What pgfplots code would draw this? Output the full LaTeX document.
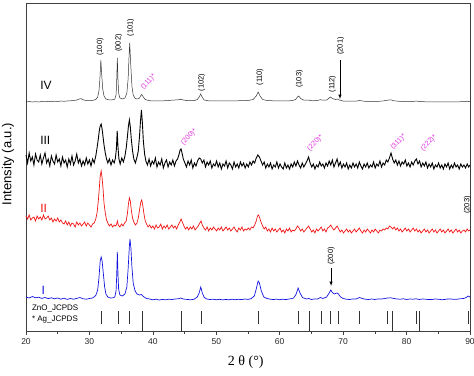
\documentclass[border=0pt]{standalone}
\usepackage{pgfplots}
\pgfplotsset{compat=1.18}
\usepackage{fontspec}
\setmainfont{Liberation Sans}
\newfontfamily\serifx{Liberation Serif}
\definecolor{mag}{RGB}{225,50,225}
\definecolor{cblue}{RGB}{20,20,225}
\definecolor{cred}{RGB}{240,20,20}
\begin{document}
\begin{tikzpicture}
\useasboundingbox (-26pt,-44pt) rectangle (448pt,331pt);
\begin{axis}[
  at={(0,0)}, anchor=south west,
  width=444pt, height=328pt, scale only axis,
  xmin=20, xmax=90, ymin=0, ymax=328,
  xtick={20,30,...,90}, minor x tick num=1,
  ytick=\empty,
  xtick pos=left, tick align=outside,
  major tick length=4pt, minor tick length=2.5pt,
  axis line style={black!75, line width=0.6pt},
  every tick/.style={black!75, line width=0.6pt},
  tick label style={font=\fontsize{8.5}{10}\selectfont, text=black!85},
  /pgf/number format/assume math mode=true,
  clip=false,
]
% ---- curve IV ----
\addplot[black!80, line width=0.5pt] coordinates {
(20,229) (20.5,229.5) (21,229) (21.5,229.3) (22,229) (22.5,229.5) (23,229.2) (23.5,229.6) (24,229.4) (24.5,229.8) (25,229.5) (25.5,230) (26,229.7) (26.5,230) (27,230.2) (27.5,230.5) (28,231) (28.4,232) (28.7,232.3) (29,231.2) (29.5,230.5) (30,230.3) (30.5,230.6) (31,231.5) (31.3,234) (31.5,240) (31.65,252) (31.8,271) (31.95,255) (32.1,242) (32.3,235) (32.6,232) (33,231.2) (33.5,231) (34,231.8) (34.2,236) (34.3,250) (34.4,273) (34.5,252) (34.6,238) (34.8,233) (35.2,232) (35.6,233) (35.9,238) (36.1,252) (36.25,275) (36.35,288) (36.5,268) (36.7,245) (36.9,236) (37.2,232.5) (37.6,232) (37.9,233) (38.1,235.5) (38.25,236.5) (38.5,234) (38.8,231.5) (39.3,230.5) (40,230) (41,230) (42,230.3) (43,230.8) (44,231.2) (44.4,231.8) (44.8,231) (45.5,230.3) (46.5,230.3) (47,231.5) (47.3,234) (47.55,237) (47.8,233.5) (48.1,231) (48.8,230.2) (50,230) (51,230) (52,230) (53,230.2) (54,230.3) (55,230.5) (55.8,231.5) (56.3,235) (56.6,239) (56.9,235) (57.3,231.5) (58,230.5) (59,230.2) (60,230) (61,230) (62,230.4) (62.5,231.5) (62.8,234) (63.0,235) (63.3,232.5) (63.8,230.8) (64.6,230.8) (65.2,230.2) (66.0,230.6) (66.4,231.3) (66.8,230.8) (67.4,231) (67.8,233) (68.0,234) (68.3,232.5) (68.8,231.5) (69.1,232) (69.4,231) (70,230) (71,229.8) (72,229.8) (72.6,230.5) (73.2,229.8) (74,229.6) (75,229.6) (76,229.8) (77,230.8) (77.5,231.2) (78,230.2) (79,229.6) (80,229.4) (81,229.5) (81.5,230) (82,229.5) (83,229.2) (84,229.2) (85,229) (86,229.2) (87,229) (88,229.2) (89,229.3) (89.6,229.8) (90,229.3)
};
% ---- curve III ----
\addplot[black, line width=0.9pt] coordinates {
(20,176) (20.25,168) (20.5,178) (20.75,170) (21,174) (21.25,166) (21.5,177) (21.75,171) (22,169) (22.25,176) (22.5,167) (22.75,173) (23,178) (23.25,168) (23.5,172) (23.75,165) (24,175) (24.25,170) (24.5,167) (24.75,176) (25,169) (25.25,172) (25.5,165) (25.75,174) (26,168) (26.25,171) (26.5,164) (26.75,172) (27,167) (27.25,175) (27.5,166) (27.75,170) (28,177) (28.25,168) (28.5,172) (28.75,165) (29,170) (29.25,166) (29.5,173) (29.75,167) (30,171) (30.25,165) (30.5,172) (30.75,168) (31.0,175) (31.2,183) (31.4,192) (31.55,200) (31.7,205) (31.85,207) (32.0,202) (32.15,194) (32.3,186) (32.5,178) (32.7,172) (32.9,168) (33.15,172) (33.4,166) (33.65,171) (33.9,168) (34.1,173) (34.25,182) (34.38,200) (34.5,184) (34.65,172) (34.85,167) (35.1,173) (35.35,169) (35.6,175) (35.8,183) (36.0,195) (36.15,205) (36.3,211) (36.45,204) (36.6,192) (36.8,180) (37.0,172) (37.25,168) (37.5,174) (37.7,180) (37.9,195) (38.05,210) (38.2,221) (38.35,208) (38.5,190) (38.7,177) (38.9,170) (39.15,166) (39.4,172) (39.65,165) (39.9,170) (40.15,167) (40.4,173) (40.65,164) (40.9,169) (41.15,166) (41.4,172) (41.65,163) (41.9,168) (42.15,171) (42.4,164) (42.65,169) (42.9,166) (43.15,171) (43.4,165) (43.65,170) (43.9,172) (44.1,176) (44.3,181) (44.45,182) (44.6,178) (44.8,172) (45.05,168) (45.3,164) (45.55,170) (45.8,166) (46.05,171) (46.3,163) (46.55,168) (46.8,165) (47.05,170) (47.3,173) (47.55,172) (47.8,168) (48.05,171) (48.3,164) (48.55,169) (48.8,166) (49.05,170) (49.3,163) (49.55,167) (49.8,165) (50.05,170) (50.3,164) (50.55,168) (50.8,162) (51.05,167) (51.3,165) (51.55,170) (51.8,163) (52.05,168) (52.3,166) (52.55,162) (52.8,169) (53.05,164) (53.3,167) (53.55,163) (53.8,169) (54.05,165) (54.3,168) (54.55,163) (54.8,167) (55.05,164) (55.3,169) (55.55,166) (55.8,170) (56.05,168) (56.3,173) (56.55,176) (56.8,174) (57.05,170) (57.3,166) (57.55,169) (57.8,163) (58.05,167) (58.3,164) (58.55,168) (58.8,162) (59.05,166) (59.3,164) (59.55,169) (59.8,163) (60.05,167) (60.3,164) (60.55,162) (60.8,168) (61.05,163) (61.3,166) (61.55,162) (61.8,167) (62.05,164) (62.3,169) (62.55,165) (62.8,170) (63.05,166) (63.3,163) (63.55,168) (63.8,164) (64.05,167) (64.3,170) (64.55,174) (64.8,168) (65.05,164) (65.3,167) (65.55,162) (65.8,166) (66.05,164) (66.3,169) (66.55,165) (66.8,167) (67.05,163) (67.3,168) (67.55,165) (67.8,170) (68.05,166) (68.3,171) (68.55,164) (68.8,168) (69.05,172) (69.3,165) (69.55,169) (69.8,163) (70.05,167) (70.3,164) (70.55,168) (70.8,162) (71.05,166) (71.3,163) (71.55,168) (71.8,164) (72.05,167) (72.3,163) (72.55,169) (72.8,165) (73.05,162) (73.3,167) (73.55,164) (73.8,168) (74.05,163) (74.3,166) (74.55,164) (74.8,169) (75.05,163) (75.3,167) (75.55,165) (75.8,170) (76.05,164) (76.3,168) (76.55,166) (76.8,171) (77.05,169) (77.3,173) (77.55,178) (77.8,172) (78.05,168) (78.3,171) (78.55,166) (78.8,170) (79.05,165) (79.3,169) (79.55,167) (79.8,171) (80.05,165) (80.3,168) (80.55,164) (80.8,169) (81.05,166) (81.3,170) (81.55,172) (81.8,167) (82.05,170) (82.3,164) (82.55,168) (82.8,165) (83.05,169) (83.3,163) (83.55,167) (83.8,164) (84.05,168) (84.3,162) (84.55,166) (84.8,164) (85.05,168) (85.3,163) (85.55,166) (85.8,162) (86.05,167) (86.3,164) (86.55,168) (86.8,162) (87.05,166) (87.3,163) (87.55,168) (87.8,164) (88.05,166) (88.3,162) (88.55,167) (88.8,164) (89.05,166) (89.3,163) (89.55,167) (89.8,164) (90,166)
};
% ---- curve II ----
\addplot[cred, line width=0.7pt] coordinates {
(20,115) (20.25,112) (20.5,116) (20.75,111) (21,113) (21.25,114) (21.5,110) (21.75,115) (22,112) (22.25,114) (22.5,111) (22.75,116) (23,112) (23.25,113) (23.5,115) (23.75,111) (24,113) (24.25,109) (24.5,112) (24.75,110) (25,113) (25.25,109) (25.5,111) (25.75,108) (26,107) (26.25,110) (26.5,106) (26.75,109) (27,105) (27.25,108) (27.5,107) (27.75,104) (28,109) (28.25,106) (28.5,108) (28.75,105) (29,107) (29.25,109) (29.5,105) (29.75,108) (30,106) (30.25,104) (30.5,107) (30.75,108) (31.0,112) (31.2,118) (31.4,130) (31.55,142) (31.7,155) (31.85,160) (32.0,153) (32.15,142) (32.3,128) (32.5,118) (32.7,111) (32.9,108) (33.15,105) (33.4,107) (33.65,104) (33.9,106) (34.15,105) (34.3,107) (34.4,110) (34.55,106) (34.8,104) (35.05,107) (35.3,105) (35.55,108) (35.8,110) (36.0,118) (36.15,127) (36.3,133) (36.45,130) (36.6,121) (36.8,113) (37.0,109) (37.25,106) (37.5,108) (37.7,113) (37.9,121) (38.1,129) (38.25,131) (38.4,126) (38.6,117) (38.8,110) (39.0,107) (39.25,104) (39.5,106) (39.75,103) (40,105) (40.25,102) (40.5,106) (40.75,103) (41,104) (41.25,107) (41.5,102) (41.75,105) (42,103) (42.25,106) (42.5,102) (42.75,104) (43,106) (43.25,103) (43.5,105) (43.75,102) (44,106) (44.25,109) (44.45,112) (44.65,109) (44.9,105) (45.15,102) (45.4,104) (45.65,101) (45.9,104) (46.15,102) (46.4,105) (46.65,101) (46.9,103) (47.15,105) (47.4,108) (47.6,110) (47.8,106) (48.05,103) (48.3,101) (48.55,104) (48.8,100) (49.05,103) (49.3,101) (49.55,104) (49.8,102) (50.05,100) (50.3,103) (50.55,101) (50.8,104) (51.05,100) (51.3,102) (51.55,104) (51.8,101) (52.05,103) (52.3,100) (52.55,102) (52.8,104) (53.05,101) (53.3,99) (53.55,103) (53.8,101) (54.05,104) (54.3,100) (54.55,102) (54.8,101) (55.05,103) (55.3,101) (55.55,104) (55.8,103) (56.05,106) (56.3,110) (56.5,115) (56.65,116) (56.85,113) (57.05,109) (57.3,105) (57.55,102) (57.8,104) (58.05,100) (58.3,102) (58.55,99) (58.8,103) (59.05,100) (59.3,102) (59.55,99) (59.8,101) (60.05,103) (60.3,99) (60.55,101) (60.8,98) (61.05,102) (61.3,100) (61.55,103) (61.8,99) (62.05,101) (62.3,100) (62.55,102) (62.8,105) (63.05,103) (63.3,100) (63.55,102) (63.8,99) (64.05,101) (64.3,103) (64.55,105) (64.8,102) (65.05,99) (65.3,101) (65.55,98) (65.8,102) (66.05,100) (66.3,102) (66.55,104) (66.8,100) (67.05,102) (67.3,99) (67.55,103) (67.8,104) (68.05,106) (68.3,103) (68.55,101) (68.8,103) (69.05,105) (69.3,102) (69.55,99) (69.8,101) (70.05,98) (70.3,100) (70.55,102) (70.8,99) (71.05,101) (71.3,98) (71.55,100) (71.8,102) (72.05,99) (72.3,101) (72.55,103) (72.8,100) (73.05,98) (73.3,101) (73.55,99) (73.8,102) (74.05,100) (74.3,98) (74.55,101) (74.8,99) (75.05,102) (75.3,100) (75.55,98) (75.8,101) (76.05,100) (76.3,102) (76.55,101) (76.8,103) (77.05,102) (77.3,105) (77.55,104) (77.8,102) (78.05,104) (78.3,101) (78.55,103) (78.8,100) (79.05,102) (79.3,99) (79.55,101) (79.8,103) (80.05,100) (80.3,102) (80.55,99) (80.8,101) (81.05,103) (81.3,100) (81.55,102) (81.8,99) (82.05,101) (82.3,98) (82.55,100) (82.8,102) (83.05,99) (83.3,101) (83.55,98) (83.8,100) (84.05,102) (84.3,99) (84.55,101) (84.8,98) (85.05,100) (85.3,102) (85.55,99) (85.8,101) (86.05,98) (86.3,100) (86.55,102) (86.8,99) (87.05,101) (87.3,98) (87.55,100) (87.8,102) (88.05,99) (88.3,101) (88.55,98) (88.8,100) (89.05,101) (89.3,99) (89.55,102) (89.8,100) (90,101)
};
% ---- curve I ----
\addplot[cblue, line width=0.7pt] coordinates {
(20,34) (20.5,33) (21,34.5) (21.5,33.2) (22,33.8) (22.5,32.6) (23,33.5) (23.5,32.4) (24,33.2) (24.5,32.2) (25,33) (25.5,31.8) (26,32.8) (26.5,31.6) (27,32.5) (27.5,31.8) (28,32.6) (28.5,33.5) (29,32.2) (29.5,31.8) (30,32.5) (30.5,33) (31,35.5) (31.3,41) (31.5,53) (31.7,70) (31.85,74) (32.0,70) (32.2,57) (32.4,44) (32.6,37) (32.9,34) (33.3,33) (33.7,33.2) (34.0,34) (34.2,40) (34.3,55) (34.4,79) (34.5,58) (34.6,42) (34.8,36) (35.2,35) (35.6,37) (35.9,44) (36.1,62) (36.3,85) (36.4,92) (36.55,82) (36.7,64) (36.9,48) (37.2,40) (37.5,37) (37.9,36) (38.2,36.5) (38.5,34.5) (39,32.5) (39.5,32) (40,31.2) (40.5,31.8) (41,31) (41.5,31.6) (42,31.2) (42.5,31.8) (43,31.5) (43.5,32) (44,32.2) (44.4,33) (44.8,32) (45.5,31.5) (46,31.2) (46.5,31.8) (47,34) (47.3,38) (47.55,44) (47.8,38) (48.1,33.5) (48.5,32) (49,31.5) (49.5,31.8) (50,31.2) (50.5,31.7) (51,31.1) (51.5,31.6) (52,31.2) (52.5,31.8) (53,31.3) (53.5,31.7) (54,31.4) (54.5,32) (55,31.6) (55.5,32.4) (56.0,35) (56.3,42) (56.6,50) (56.8,48) (57.1,40) (57.5,34) (58,32.5) (58.5,31.8) (59,31.4) (59.5,31.9) (60,31.3) (60.5,31.8) (61,31.4) (61.5,32) (61.9,32.4) (62.2,33) (62.6,37) (62.9,43) (63.2,38) (63.6,33.5) (64.2,32) (64.6,32.5) (65,31.5) (65.5,32.1) (66,32) (66.4,33.5) (66.8,32.5) (67.4,34) (67.8,38) (68.05,41) (68.3,38.5) (68.6,37) (69.0,38) (69.2,37.5) (69.6,34) (70,32.5) (70.5,31.8) (71,31.5) (71.5,32.1) (72,32) (72.6,33.5) (73,32.5) (73.5,31.8) (74,31.5) (74.5,32) (75,31.5) (75.5,32.1) (76,32) (76.5,32.4) (77,33) (77.5,33.2) (78,32.5) (78.5,32) (79,31.8) (79.5,32.2) (80,31.5) (80.5,32) (81,31.8) (81.5,32.2) (82,31.5) (82.5,32) (83,31.8) (83.5,31.4) (84,31.5) (84.5,32) (85,31.8) (85.5,31.3) (86,31.5) (86.5,32.1) (87,32) (87.5,31.6) (88,31.8) (88.5,32.3) (89,32.5) (89.4,33.5) (89.7,35) (90,34)
};
% ---- JCPDS reference lines ----
\addplot[black!80, line width=0.6pt, unbounded coords=jump] coordinates {
(31.8,7) (31.8,20) (31.8,nan)
(34.5,7) (34.5,20) (34.5,nan)
(36.3,7) (36.3,20) (36.3,nan)
(47.6,7) (47.6,20) (47.6,nan)
(56.7,7) (56.7,20) (56.7,nan)
(63.0,7) (63.0,20) (63.0,nan)
(66.5,7) (66.5,20) (66.5,nan)
(68.0,7) (68.0,20) (68.0,nan)
(69.2,7) (69.2,20) (69.2,nan)
(72.6,7) (72.6,20) (72.6,nan)
(77.0,7) (77.0,20) (77.0,nan)
(81.5,7) (81.5,20) (81.5,nan)
(89.7,7) (89.7,20)
};
\addplot[black!80, line width=0.6pt, unbounded coords=jump] coordinates {
(38.3,0) (38.3,20) (38.3,nan)
(44.5,0) (44.5,20) (44.5,nan)
(64.7,0) (64.7,20) (64.7,nan)
(77.7,0) (77.7,20) (77.7,nan)
(82.0,0) (82.0,20)
};
% ---- labels ----
\node[anchor=west, font=\fontsize{8}{9}\selectfont] at (axis cs:20.4,22) {ZnO\_JCPDS};
\node[anchor=west, font=\fontsize{8}{9}\selectfont] at (axis cs:20.4,11) {* Ag\_JCPDS};
\node[anchor=west, font=\fontsize{12}{14}\selectfont] at (axis cs:21.7,246) {IV};
\node[anchor=west, font=\fontsize{12}{14}\selectfont] at (axis cs:21.7,191) {III};
\node[anchor=west, font=\fontsize{12}{14}\selectfont, text=cred] at (axis cs:21.7,123) {II};
\node[anchor=west, font=\fontsize{12}{14}\selectfont, text=cblue] at (axis cs:21.9,41) {I};
\begin{scope}[every node/.style={rotate=90, font=\fontsize{7.5}{9}\selectfont, inner sep=0pt}]
\node at (axis cs:31.7,284) {(100)};
\node at (axis cs:34.6,288) {(002)};
\node at (axis cs:36.5,303.5) {(101)};
\node at (axis cs:47.7,248.5) {(102)};
\node at (axis cs:56.9,254) {(110)};
\node at (axis cs:63.1,252) {(103)};
\node at (axis cs:68.3,247) {(112)};
\node at (axis cs:69.6,285) {(201)};
\node at (axis cs:68.1,75) {(200)};
\node at (axis cs:89.6,126) {(203)};
\end{scope}
\draw[-latex, black, line width=0.5pt] (axis cs:69.5,271) -- (axis cs:69.5,232);
\draw[-latex, black, line width=0.5pt] (axis cs:68.1,63) -- (axis cs:68.1,45);
\begin{scope}[every node/.style={rotate=45, font=\fontsize{7}{8}\selectfont, inner sep=0pt, text=mag}]
\node at (axis cs:39.3,249) {(111)*};
\node at (axis cs:45.7,194) {(200)*};
\node at (axis cs:65.6,188) {(220)*};
\node at (axis cs:78.7,189) {(311)*};
\node at (axis cs:83.5,188) {(222)*};
\end{scope}
\node[rotate=90, font=\fontsize{13}{15}\selectfont] at ([xshift=-18pt]rel axis cs:0,0.509) {Intensity (a.u.)};
\node[font=\serifx\fontsize{14}{16}\selectfont] at ([yshift=-31pt]rel axis cs:0.495,0) {2 θ (°)};
\end{axis}
\end{tikzpicture}
\end{document}
